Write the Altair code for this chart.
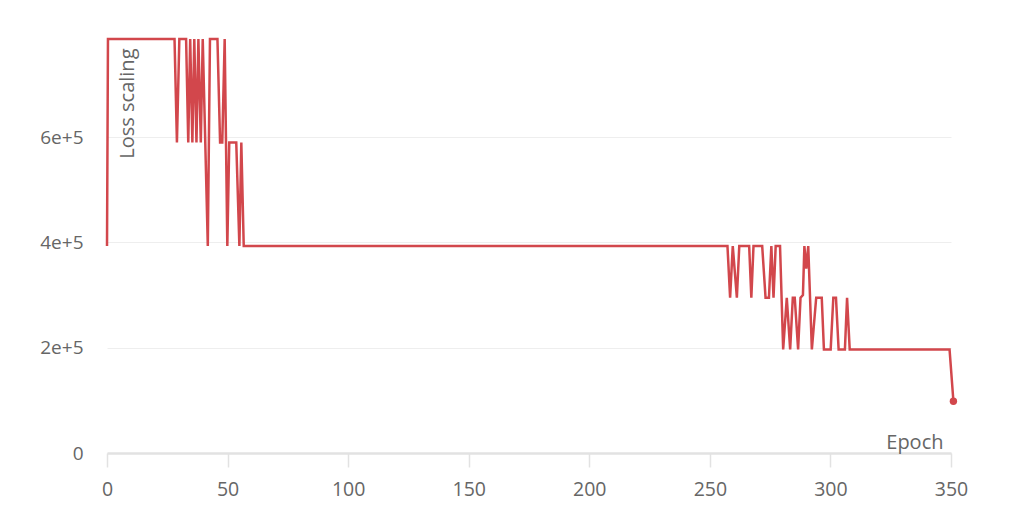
import altair as alt
import pandas as pd

# Vertices of the loss-scaling curve
epochs = [0.0, 0.4, 28.0, 29.0, 30.0, 32.8, 33.7, 34.5, 35.4, 36.2,
          37.1, 37.9, 38.9, 39.7, 41.8, 42.7, 45.8, 46.9, 47.8, 48.8,
          49.9, 50.7, 53.6, 54.9, 55.7, 56.7, 257.3, 258.4, 259.5, 261.2,
          262.2, 266.3, 267.2, 268.1, 271.7, 273.1, 274.5, 275.5, 276.4, 277.3,
          279.1, 280.4, 281.9, 283.3, 284.4, 285.2, 286.6, 287.6, 288.6, 289.2,
          290.0, 290.8, 292.3, 294.1, 296.4, 297.3, 300.1, 301.2, 302.3, 303.4,
          306.0, 306.9, 308.0, 349.4, 351.0]
loss_scale = [393216, 786432, 786432, 589824, 786432, 786432, 589824, 786432, 589824, 786432,
              589824, 786432, 589824, 786432, 393216, 786432, 786432, 589824, 589824, 786432,
              393216, 589824, 589824, 393216, 589824, 393216, 393216, 294912, 393216, 294912,
              393216, 393216, 294912, 393216, 393216, 294912, 294912, 393216, 294912, 393216,
              393216, 196608, 294912, 196608, 294912, 294912, 196608, 294912, 300000, 393216,
              350000, 393216, 196608, 294912, 294912, 196608, 196608, 294912, 294912, 196608,
              196608, 294912, 196608, 196608, 98304]

x_ticks = [0, 50, 100, 150, 200, 250, 300, 350]
y_ticks = [0, 200000, 400000, 600000]

df = pd.DataFrame({"epoch": epochs, "value": loss_scale})
last = df.tail(1)

FONT = "Open Sans"
RED = "#d2474c"

x_enc = alt.X(
    "epoch:Q",
    scale=alt.Scale(domain=[0, 350], nice=False, zero=True),
    axis=alt.Axis(
        values=x_ticks, format="d", grid=False,
        domainColor="#e2e2e2", domainWidth=2.5,
        tickColor="#e2e2e2", tickWidth=1.5, tickSize=14,
        labelFont=FONT, labelFontSize=19.5, labelColor="#666666", labelPadding=13,
        title="Epoch", titleFont=FONT, titleFontSize=20, titleFontWeight="normal",
        titleColor="#666666", titleX=836, titleY=-5, titleAlign="right",
        titleBaseline="alphabetic", labelFlush=False,
    ),
)
y_enc = alt.Y(
    "value:Q",
    scale=alt.Scale(domain=[0, 786432], nice=False),
    axis=alt.Axis(
        values=y_ticks, domain=False, ticks=False,
        labelExpr="datum.value == 0 ? '0' : format(datum.value, '~e')",
        grid=True, gridColor="#eeeeee", gridWidth=1,
        labelFont=FONT, labelFontSize=19, labelColor="#666666", labelPadding=24,
        title="Loss scaling", titleFont=FONT, titleFontSize=20, titleFontWeight="normal",
        titleColor="#666666", titleAngle=-90, titleX=20, titleY=9,
        titleAlign="right", titleBaseline="middle",
    ),
)

line = alt.Chart(df).mark_line(color=RED, strokeWidth=2.5, clip=False).encode(x=x_enc, y=y_enc)
dot = alt.Chart(last).mark_circle(color=RED, size=55, opacity=1, clip=False).encode(
    x=alt.X("epoch:Q"), y=alt.Y("value:Q")
)

chart = (
    alt.layer(line, dot)
    .properties(
        width=844, height=414,
        autosize=alt.AutoSizeParams(type="none"),
        padding={"left": 99, "top": 31, "right": 40, "bottom": 70},
        background="white",
    )
    .configure_view(stroke=None)
)

chart.save("out.html", embed_options={"renderer": "svg", "actions": False})
